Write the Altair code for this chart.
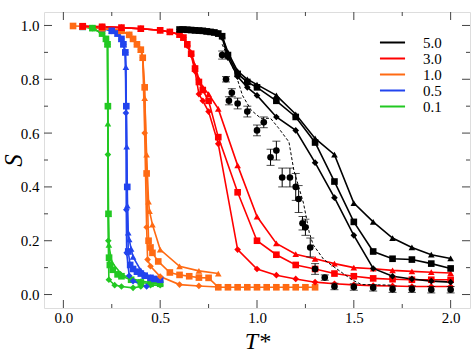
import altair as alt
import pandas as pd

# ---------------- data ----------------
GROUPS = ["5.0", "3.0", "1.0", "0.5", "0.1"]
COLORS = ["#000000", "#ff0000", "#ff6a13", "#2244ee", "#22c822"]

# green (0.1)
g_tri_T = [0.1, 0.15, 0.2, 0.22, 0.228, 0.23, 0.232, 0.235, 0.25, 0.3, 0.35, 0.4, 0.45, 0.5]
g_tri_S = [0.995, 0.99, 0.97, 0.95, 0.93, 0.635, 0.30, 0.185, 0.12, 0.075, 0.06, 0.05, 0.045, 0.045]
g_sq_T = [0.1, 0.15, 0.2, 0.22, 0.228, 0.23, 0.233, 0.236, 0.24, 0.255, 0.28, 0.3, 0.35, 0.4, 0.45, 0.5]
g_sq_S = [0.995, 0.99, 0.97, 0.95, 0.93, 0.70, 0.30, 0.137, 0.11, 0.092, 0.075, 0.068, 0.055, 0.045, 0.04, 0.04]
g_dia_T = [0.1, 0.15, 0.2, 0.22, 0.228, 0.23, 0.232, 0.235, 0.265, 0.3, 0.36, 0.4, 0.45, 0.5]
g_dia_S = [0.995, 0.99, 0.97, 0.95, 0.93, 0.52, 0.20, 0.055, 0.035, 0.03, 0.025, 0.03, 0.035, 0.035]

# blue (0.5)
b_tri_T = [0.1, 0.2, 0.25, 0.28, 0.30, 0.31, 0.32, 0.323, 0.327, 0.33, 0.335, 0.34, 0.35, 0.36, 0.4, 0.45, 0.5]
b_tri_S = [0.995, 0.99, 0.98, 0.97, 0.95, 0.93, 0.90, 0.845, 0.55, 0.33, 0.23, 0.205, 0.17, 0.14, 0.09, 0.065, 0.055]
b_sq_T = [0.1, 0.2, 0.25, 0.28, 0.30, 0.31, 0.32, 0.325, 0.33, 0.335, 0.345, 0.36, 0.38, 0.40, 0.42, 0.45, 0.47, 0.5]
b_sq_S = [0.995, 0.99, 0.98, 0.97, 0.95, 0.93, 0.90, 0.70, 0.40, 0.16, 0.11, 0.095, 0.085, 0.078, 0.07, 0.062, 0.058, 0.055]
b_dia_T = [0.1, 0.2, 0.25, 0.28, 0.30, 0.31, 0.32, 0.323, 0.325, 0.327, 0.34, 0.36, 0.43]
b_dia_S = [0.995, 0.99, 0.98, 0.97, 0.95, 0.93, 0.90, 0.675, 0.315, 0.155, 0.07, 0.05, 0.03]

# orange (1.0)
o_tri_T = [0.1, 0.2, 0.3, 0.34, 0.36, 0.38, 0.40, 0.41, 0.42, 0.43, 0.44, 0.445, 0.46, 0.5, 0.6, 0.7, 0.8]
o_tri_S = [0.995, 0.99, 0.98, 0.965, 0.95, 0.93, 0.91, 0.88, 0.73, 0.52, 0.345, 0.31, 0.26, 0.167, 0.105, 0.088, 0.078]
o_sq_T = [0.05, 0.1, 0.2, 0.3, 0.34, 0.36, 0.38, 0.40, 0.41, 0.42, 0.43, 0.44, 0.45, 0.46, 0.49,
          0.55, 0.6, 0.65, 0.7, 0.75, 0.8, 0.85, 0.9, 0.95, 1.0, 1.05, 1.1, 1.15, 1.2, 1.25, 1.3]
o_sq_S = [0.998, 0.997, 0.99, 0.98, 0.965, 0.95, 0.93, 0.91, 0.88, 0.77, 0.45, 0.20, 0.175, 0.155, 0.123,
          0.082, 0.073, 0.068, 0.063, 0.062, 0.027, 0.027, 0.027, 0.027, 0.027, 0.027, 0.027, 0.027, 0.027, 0.027, 0.027]
o_dia_T = [0.1, 0.2, 0.3, 0.34, 0.36, 0.38, 0.40, 0.41, 0.42, 0.43, 0.435, 0.45, 0.5, 0.6, 0.7, 0.8]
o_dia_S = [0.996, 0.99, 0.98, 0.965, 0.95, 0.93, 0.91, 0.88, 0.60, 0.25, 0.13, 0.105, 0.067, 0.037, 0.032, 0.028]

# red (3.0)
r_T = [0.1, 0.2, 0.3, 0.4, 0.5, 0.55, 0.6, 0.62, 0.64, 0.66, 0.68, 0.70, 0.72, 0.75, 0.8, 0.9,
       1.0, 1.1, 1.2, 1.3, 1.4, 1.5, 1.6, 1.7, 1.8, 1.9, 2.0]
r_tri_S = [0.997, 0.995, 0.992, 0.988, 0.982, 0.976, 0.966, 0.955, 0.93, 0.90, 0.85, 0.80, 0.77, 0.745, 0.69, 0.48,
           0.29, 0.19, 0.15, 0.133, 0.115, 0.10, 0.096, 0.09, 0.086, 0.083, 0.08]
r_sq_S = [0.997, 0.995, 0.992, 0.988, 0.982, 0.976, 0.966, 0.955, 0.93, 0.895, 0.84, 0.79, 0.76, 0.72, 0.585, 0.38,
          0.20, 0.148, 0.11, 0.095, 0.078, 0.068, 0.06, 0.057, 0.055, 0.055, 0.055]
r_dia_S = [0.997, 0.995, 0.992, 0.988, 0.982, 0.976, 0.966, 0.955, 0.925, 0.89, 0.83, 0.745, 0.72, 0.68, 0.56, 0.167,
           0.095, 0.072, 0.058, 0.046, 0.04, 0.036, 0.033, 0.032, 0.03, 0.03, 0.03]

# black (5.0)
k_T = [0.6, 0.62, 0.64, 0.66, 0.68, 0.70, 0.72, 0.74, 0.76, 0.78, 0.80, 0.82, 0.85, 0.90, 0.95,
       1.0, 1.1, 1.2, 1.3, 1.4, 1.5, 1.6, 1.7, 1.8, 1.9, 2.0]
k_tri_S = [0.985, 0.985, 0.984, 0.983, 0.982, 0.981, 0.98, 0.978, 0.976, 0.974, 0.97, 0.96, 0.90, 0.83, 0.80,
           0.78, 0.74, 0.67, 0.58, 0.52, 0.34, 0.27, 0.21, 0.175, 0.148, 0.134]
k_sq_S = [0.985, 0.985, 0.984, 0.983, 0.982, 0.981, 0.98, 0.978, 0.976, 0.974, 0.97, 0.96, 0.89, 0.82, 0.79,
          0.77, 0.72, 0.66, 0.565, 0.42, 0.27, 0.16, 0.133, 0.13, 0.115, 0.097]
k_dia_S = [0.985, 0.985, 0.984, 0.983, 0.982, 0.981, 0.98, 0.978, 0.976, 0.974, 0.97, 0.955, 0.88, 0.81, 0.77,
           0.74, 0.66, 0.61, 0.49, 0.36, 0.22, 0.097, 0.068, 0.058, 0.05, 0.046]

# simulation points with error bars
sim_T = [0.82, 0.84, 0.855, 0.87, 0.9, 0.95, 1.0, 1.035, 1.07, 1.1, 1.13, 1.17, 1.2, 1.215,
         1.235, 1.25, 1.275, 1.3, 1.35, 1.4, 1.5, 1.6, 1.7, 1.8, 1.9, 2.0]
sim_S = [0.89, 0.80, 0.72, 0.75, 0.71, 0.68, 0.61, 0.64, 0.51, 0.535, 0.435, 0.435, 0.40, 0.355,
         0.265, 0.25, 0.175, 0.095, 0.063, 0.03, 0.028, 0.025, 0.02, 0.02, 0.018, 0.018]
sim_E = [0.015, 0.01, 0.015, 0.015, 0.02, 0.02, 0.02, 0.02, 0.03, 0.035, 0.035, 0.035, 0.05, 0.05,
         0.025, 0.03, 0.035, 0.02, 0.01, 0.012, 0.012, 0.012, 0.012, 0.012, 0.012, 0.012]

# dashed reference curve
dash_T = [0.82, 0.89, 0.925, 0.97, 1.02, 1.07, 1.11, 1.165, 1.19, 1.24, 1.27, 1.29, 1.345, 1.49, 1.54, 1.7]
dash_S = [0.93, 0.82, 0.74, 0.685, 0.655, 0.655, 0.62, 0.567, 0.463, 0.34, 0.23, 0.185, 0.13, 0.055, 0.037, 0.035]

X_MAJOR = [0.0, 0.5, 1.0, 1.5, 2.0]
X_MINOR = [0.25, 0.75, 1.25, 1.75]
Y_MAJOR = [0.0, 0.2, 0.4, 0.6, 0.8, 1.0]
Y_MINOR = [0.1, 0.3, 0.5, 0.7, 0.9]

# ---------------- assemble ----------------
series = [
    ("0.1", "tri", g_tri_T, g_tri_S), ("0.1", "sq", g_sq_T, g_sq_S), ("0.1", "dia", g_dia_T, g_dia_S),
    ("0.5", "tri", b_tri_T, b_tri_S), ("0.5", "sq", b_sq_T, b_sq_S), ("0.5", "dia", b_dia_T, b_dia_S),
    ("1.0", "tri", o_tri_T, o_tri_S), ("1.0", "sq", o_sq_T, o_sq_S), ("1.0", "dia", o_dia_T, o_dia_S),
    ("3.0", "tri", r_T, r_tri_S), ("3.0", "sq", r_T, r_sq_S), ("3.0", "dia", r_T, r_dia_S),
    ("5.0", "tri", k_T, k_tri_S), ("5.0", "sq", k_T, k_sq_S), ("5.0", "dia", k_T, k_dia_S),
]
rows = []
for gi, (grp, shp, Ts, Ss) in enumerate(series):
    for i, (t, s) in enumerate(zip(Ts, Ss)):
        rows.append({"T": t, "S": s, "grp": grp, "shp": shp, "sid": f"{gi:02d}-{grp}-{shp}", "o": i})
df = pd.DataFrame(rows)

sim = pd.DataFrame({"T": sim_T, "S": sim_S, "E": sim_E})
sim["lo"] = sim["S"] - sim["E"]
sim["hi"] = sim["S"] + sim["E"]
dash = pd.DataFrame({"T": dash_T, "S": dash_S})

W, H = 426, 296
xs = alt.Scale(domain=[-0.1, 2.1], nice=False, zero=False)
ys = alt.Scale(domain=[-0.05, 1.05], nice=False, zero=False)
cs = alt.Scale(domain=GROUPS, range=COLORS)
SERIF = "Liberation Serif"
FRAME = "#444444"

x_axis = alt.Axis(values=X_MAJOR, format=".1f", ticks=False, domain=False, grid=False,
                  labelFont=SERIF, labelFontSize=15, labelColor="black", labelPadding=2,
                  title="T*", titleFont=SERIF, titleFontSize=24, titleFontStyle="italic",
                  titleFontWeight="normal", titleColor="black", titleBaseline="alphabetic", titleY=40)
y_axis = alt.Axis(values=Y_MAJOR, format=".1f", ticks=False, domain=False, grid=False,
                  labelFont=SERIF, labelFontSize=15, labelColor="black", labelPadding=5,
                  title="S", titleFont=SERIF, titleFontSize=25, titleFontStyle="italic",
                  titleFontWeight="normal", titleColor="black", titleX=-31, titleY=H / 2,
                  titleBaseline="middle", titleAngle=270)


def X(field):
    return alt.X(field, scale=xs, axis=x_axis)


def Y(field):
    return alt.Y(field, scale=ys, axis=y_axis)


lines = alt.Chart(df).mark_line(strokeWidth=1.6).encode(
    x=X("T:Q"),
    y=Y("S:Q"),
    color=alt.Color("grp:N", scale=cs, sort=GROUPS,
                    legend=alt.Legend(title=None, orient="none", legendX=341, legendY=23,
                                      symbolType="M-3,0H3", symbolSize=70, symbolStrokeWidth=2,
                                      labelFont=SERIF, labelFontSize=15, labelColor="black",
                                      labelOffset=23, rowPadding=0, padding=0)),
    detail="sid:N",
    order="o:Q",
)

points = alt.Chart(df).mark_point(filled=True, opacity=1, size=44).encode(
    x=X("T:Q"),
    y=Y("S:Q"),
    color=alt.Color("grp:N", scale=cs, legend=None),
    shape=alt.Shape("shp:N", scale=alt.Scale(domain=["tri", "sq", "dia"],
                                             range=["triangle-up", "square", "diamond"]), legend=None),
)

dash_line = alt.Chart(dash).mark_line(color="black", strokeWidth=1, strokeDash=[3, 2]).encode(
    x=X("T:Q"),
    y=Y("S:Q"),
)

err = alt.Chart(sim).mark_rule(color="black", strokeWidth=1).encode(
    x=X("T:Q"),
    y=Y("lo:Q"),
    y2="hi:Q",
)
cap_lo = alt.Chart(sim).mark_tick(color="black", thickness=1, size=8, orient="horizontal").encode(
    x=X("T:Q"),
    y=Y("lo:Q"),
)
cap_hi = alt.Chart(sim).mark_tick(color="black", thickness=1, size=8, orient="horizontal").encode(
    x=X("T:Q"),
    y=Y("hi:Q"),
)
sim_pts = alt.Chart(sim).mark_point(filled=True, opacity=1, color="black", shape="circle", size=44).encode(
    x=X("T:Q"),
    y=Y("S:Q"),
)


# inward ticks on all four sides
def xticks(vals, length):
    d = pd.DataFrame({"v": vals})
    bot = alt.Chart(d).mark_rule(color=FRAME, strokeWidth=1).encode(
        x=X("v:Q"), y=alt.value(H), y2=alt.value(H - length))
    top = alt.Chart(d).mark_rule(color=FRAME, strokeWidth=1).encode(
        x=X("v:Q"), y=alt.value(0), y2=alt.value(length))
    return [bot, top]


def yticks(vals, length):
    d = pd.DataFrame({"v": vals})
    left = alt.Chart(d).mark_rule(color=FRAME, strokeWidth=1).encode(
        y=Y("v:Q"), x=alt.value(0), x2=alt.value(length))
    right = alt.Chart(d).mark_rule(color=FRAME, strokeWidth=1).encode(
        y=Y("v:Q"), x=alt.value(W), x2=alt.value(W - length))
    return [left, right]


tick_layers = xticks(X_MAJOR, 8) + xticks(X_MINOR, 4) + yticks(Y_MAJOR, 8) + yticks(Y_MINOR, 4)

chart = alt.layer(
    lines, points, dash_line, err, cap_lo, cap_hi, sim_pts, *tick_layers
).properties(
    width=W, height=H,
    autosize=alt.AutoSizeParams(type="none"),
    padding={"left": 44, "top": 12, "right": 4, "bottom": 47},
).configure_view(
    stroke=FRAME, strokeWidth=1.8
).configure_axis(
    labelFont=SERIF, titleFont=SERIF
).configure_legend(
    labelFont=SERIF
).configure(background="white")

chart.save("out.html", embed_options={"renderer": "svg", "actions": False})
